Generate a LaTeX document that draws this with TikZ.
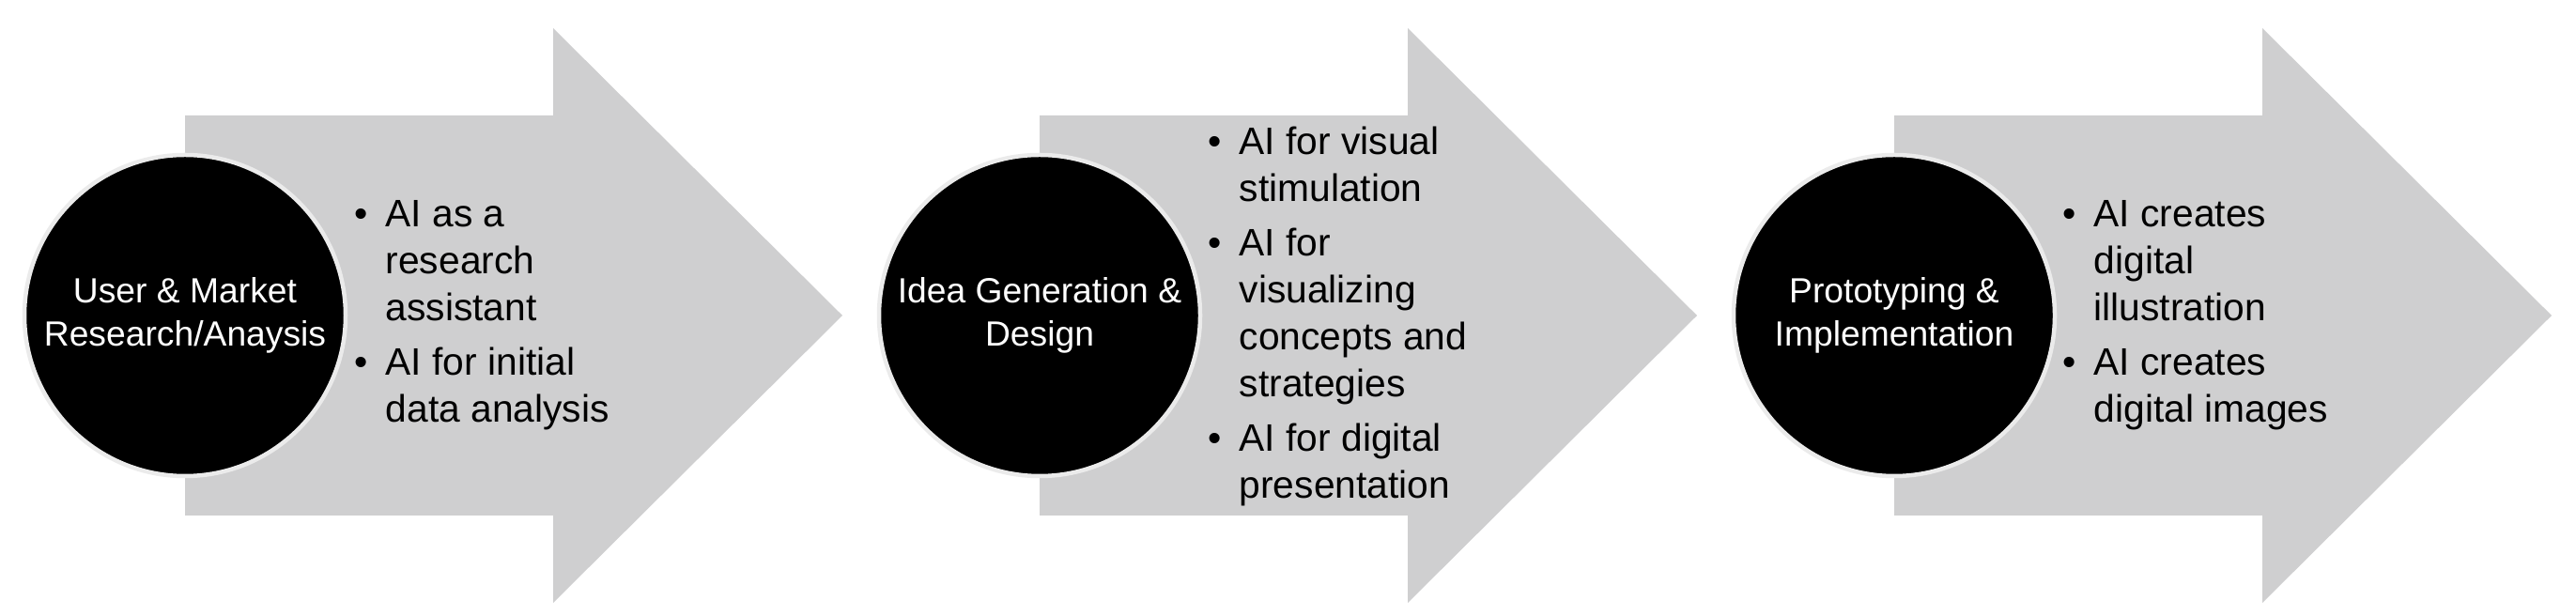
\documentclass[tikz,border=0pt]{standalone}
\usepackage{fontspec}
\setmainfont{Liberation Sans}
\usetikzlibrary{calc}
\definecolor{arrowgrey}{RGB}{207,207,208}
\definecolor{ringgrey}{RGB}{235,235,235}
\tikzset{
	stage/.style={circle, fill=black, draw=ringgrey, line width=0.45mm, minimum size=3.42cm, inner sep=0pt},
	stagetext/.style={text=white, align=center, font={\fontsize{10.6}{13}\selectfont}},
	points/.style={anchor=west, align=left, inner sep=0pt, font={\fontsize{11.6}{14.2}\selectfont}}
}
\newcommand{\bul}{\llap{\textbullet\hspace{0.19cm}}}

\begin{document}
\begin{tikzpicture}
			%%%%% START %%%%%
			
			\useasboundingbox[fill=white] (0, 0) rectangle (27.43, 6.56);
			
			\fill[arrowgrey] (1.97, 1.07) -- (1.97, 5.33) -- (5.89, 5.33) -- (5.89, 6.26) -- (8.97, 3.20) -- (5.89, 0.14) -- (5.89, 1.07) -- cycle;
			\fill[arrowgrey] (11.07, 1.07) -- (11.07, 5.33) -- (14.99, 5.33) -- (14.99, 6.26) -- (18.07, 3.20) -- (14.99, 0.14) -- (14.99, 1.07) -- cycle;
			\fill[arrowgrey] (20.17, 1.07) -- (20.17, 5.33) -- (24.09, 5.33) -- (24.09, 6.26) -- (27.17, 3.20) -- (24.09, 0.14) -- (24.09, 1.07) -- cycle;
			
			\node[stage] (research) at (1.97, 3.20) {};
			\node[stagetext] (researchtxt) at (research.center) {User \& Market\\Research/Anaysis};
			
			\node[stage] (idea) at (11.07, 3.20) {};
			\node[stagetext] (ideatxt) at (idea.center) {Idea Generation \&\\Design};
			
			\node[stage] (proto) at (20.17, 3.20) {};
			\node[stagetext] (prototxt) at (proto.center) {Prototyping \&\\Implementation};
			
			\node[points] (researchpts) at (4.10, 3.20) {\bul AI as a\\research\\assistant\\[2.3pt]\bul AI for initial\\data analysis};
			\node[points] (ideapts) at (13.19, 3.19) {\bul AI for visual\\stimulation\\[2.3pt]\bul AI for\\visualizing\\concepts and\\strategies\\[2.3pt]\bul AI for digital\\presentation};
			\node[points] (protopts) at (22.29, 3.20) {\bul AI creates\\digital\\illustration\\[2.3pt]\bul AI creates\\digital images};
			
			%%%%% END %%%%%
		\end{tikzpicture}
\end{document}
